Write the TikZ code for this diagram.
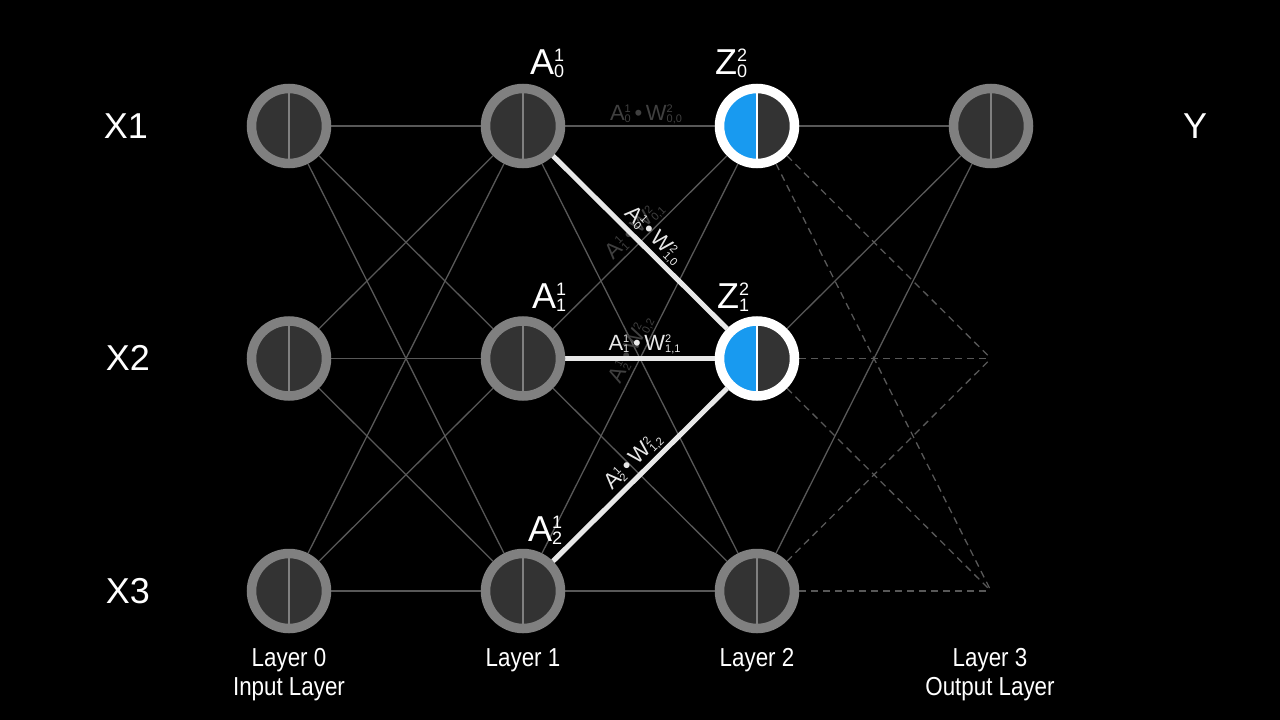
\documentclass[tikz,border=0pt]{standalone}
\usepackage{fontspec}
\setmainfont{Liberation Sans}
\newfontfamily\narrowfont[FakeStretch=0.86]{Liberation Sans}
\usetikzlibrary{positioning,backgrounds}
\definecolor{ringgray}{RGB}{128,128,128}
\definecolor{cellfill}{RGB}{51,51,51}
\definecolor{zblue}{RGB}{24,154,240}
\definecolor{wiregray}{RGB}{88,88,88}
\definecolor{faintgray}{RGB}{64,64,64}
\definecolor{hiwhite}{RGB}{232,232,232}
% letter with stacked upper and lower index
\newcommand{\sbs}[3]{#1\rlap{\raisebox{0.34em}{\scalebox{0.5}{#2}}}\raisebox{-0.1em}{\scalebox{0.5}{#3}}}
\newcommand{\prd}[6]{\sbs{#1}{#2}{#3}\,\textbullet\,\sbs{#4}{#5}{#6}}
\tikzset{%
cellbase/.style={circle, line width=9.5pt, fill=cellfill, minimum size=75pt, inner sep=0pt},
neuron/.style={cellbase, draw=ringgray,
  path picture={\draw[ringgray, line width=2pt] (path picture bounding box.north) -- (path picture bounding box.south);}},
active/.style={cellbase, draw=white,
  path picture={\fill[zblue] (path picture bounding box.south west) rectangle (path picture bounding box.north);
    \draw[white, line width=1.5pt] (path picture bounding box.north) -- (path picture bounding box.south);}},
wire/.style={draw=wiregray, line width=1.3pt},
ghost/.style={wire, dash pattern=on 7pt off 5pt},
hot/.style={draw=hiwhite, line width=5pt},
dimlbl/.style={text=faintgray, font=\fontsize{22}{24}\selectfont, inner sep=2pt},
hotlbl/.style={text=hiwhite, font=\fontsize{22}{24}\selectfont, inner sep=2pt},
biglbl/.style={text=white, font=\fontsize{36}{40}\selectfont, inner sep=0pt},
unitlbl/.style={text=white, font=\fontsize{36}{40}\selectfont, inner sep=0pt, anchor=base west},
layerlbl/.style={text=white, font=\narrowfont\fontsize{26}{29}\selectfont, align=center, inner sep=0pt, anchor=north}
}
\begin{document}
\begin{tikzpicture}[x=1pt, y=-1pt, node distance=232.5pt and 234pt, on grid]
		% layer 0
		\node[neuron] (x1) at (289,126) {};
		\node[neuron, below=of x1] (x2) {};
		\node[neuron, below=of x2] (x3) {};
		% layer 1
		\node[neuron, right=of x1] (a0) {};
		\node[neuron, right=of x2] (a1) {};
		\node[neuron, right=of x3] (a2) {};
		% layer 2
		\node[active, right=of a0] (z0) {};
		\node[active, right=of a1] (z1) {};
		\node[neuron, right=of a2] (z2) {};
		% layer 3
		\node[neuron, right=of z0] (y0) {};
		\coordinate[right=of z1] (d1);
		\coordinate[right=of z2] (d2);
		
		\node[biglbl] (tx1) at (126,126) {X1};
		\node[biglbl] (tx2) at (128,358) {X2};
		\node[biglbl] (tx3) at (128,591) {X3};
		\node[biglbl] (ty) at (1195,126) {Y};
		
		\node[unitlbl] (ta0) at (530,74) {\sbs{A}{1}{0}};
		\node[unitlbl] (ta1) at (532,308) {\sbs{A}{1}{1}};
		\node[unitlbl] (ta2) at (528,541) {\sbs{A}{1}{2}};
		\node[unitlbl] (tz0) at (715,74) {\sbs{Z}{2}{0}};
		\node[unitlbl] (tz1) at (717,308) {\sbs{Z}{2}{1}};
		
		\node[layerlbl] (l0) at (289,648) {Layer 0\\Input Layer};
		\node[layerlbl] (l1) at (523,648) {Layer 1};
		\node[layerlbl] (l2) at (757,648) {Layer 2};
		\node[layerlbl] (l3) at (990,648) {Layer 3\\Output Layer};
		
		\begin{scope}[on background layer]
			\fill[black] (0,0) rectangle (1280,720);
			\foreach \s in {x1,x2,x3}
				\foreach \t in {a0,a1,a2}
					\draw[wire] (\s) -- (\t);
			\foreach \s in {a0,a1,a2}
				\foreach \t in {z0,z1,z2}
					\draw[wire] (\s) -- (\t);
			\foreach \s in {z0,z1,z2} {
				\draw[wire] (\s) -- (y0);
				\draw[ghost] (\s) -- (d1);
				\draw[ghost] (\s) -- (d2);
			}
			
			\path (a0) -- node[dimlbl, pos=0.54, above] {\prd{A}{1}{0}{W}{2}{0,0}} (z0);
			\path (a1) -- node[dimlbl, pos=0.52, sloped, above] {\prd{A}{1}{1}{W}{2}{0,1}} (z0);
			\path (a2) -- node[dimlbl, pos=0.51, sloped, above] {\prd{A}{1}{2}{W}{2}{0,2}} (z0);
			
			\draw[hot] (a0) -- node[hotlbl, pos=0.52, sloped, above] {\prd{A}{1}{0}{W}{2}{1,0}} (z1);
			\draw[hot] (a1) -- node[hotlbl, pos=0.53, above] {\prd{A}{1}{1}{W}{2}{1,1}} (z1);
			\draw[hot] (a2) -- node[hotlbl, pos=0.52, sloped, above] {\prd{A}{1}{2}{W}{2}{1,2}} (z1);
		\end{scope}
	\end{tikzpicture}
\end{document}
